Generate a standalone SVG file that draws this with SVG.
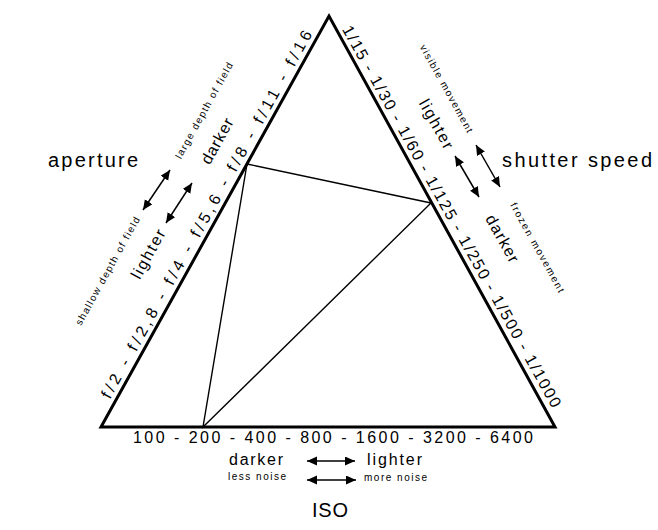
<svg xmlns="http://www.w3.org/2000/svg" width="658" height="530" viewBox="0 0 658 530">
<style>
text{font-family:"Liberation Sans",Arial,sans-serif;fill:#000}
.title{font-size:20px}
.mid{font-size:16px}
.scale{font-size:16px}
.small{font-size:10px}
.outer{fill:none;stroke:#000;stroke-width:3;stroke-linejoin:miter}
.inner{fill:none;stroke:#000;stroke-width:1.4}
.arr{stroke:#000;stroke-width:1.5;fill:none;marker-start:url(#ah);marker-end:url(#ah)}
</style>
<defs>
<marker id="ah" markerUnits="userSpaceOnUse" markerWidth="12" markerHeight="10" refX="10" refY="4.5" orient="auto-start-reverse">
<path d="M0,0 L10,4.5 L0,9 Z" fill="#000"/>
</marker>
</defs>
<rect width="658" height="530" fill="#fff"/>
<g id="triangle">
<path class="outer" d="M101,427 L329,16 L555,427 Z"/>
</g>
<g id="exposure-triangle">
<path class="inner" d="M247,164 L431,203 L203,427 Z"/>
</g>
<g id="aperture">
<text class="title" x="93" y="167" text-anchor="middle" textLength="90" lengthAdjust="spacing">aperture</text>
<text class="scale" transform="translate(211.2,217) rotate(-61)" text-anchor="middle" textLength="418" lengthAdjust="spacing">f/2 - f/2,8 - f/4 - f/5,6 - f/8 - f/11 - f/16</text>
<text class="mid" transform="translate(217,141) rotate(-61)" dy="0.35em" text-anchor="middle" textLength="50" lengthAdjust="spacing">darker</text>
<text class="mid" transform="translate(148,254) rotate(-61)" dy="0.35em" text-anchor="middle" textLength="54" lengthAdjust="spacing">lighter</text>
<text class="small" transform="translate(204,110.5) rotate(-61)" dy="0.35em" text-anchor="middle" textLength="108" lengthAdjust="spacing">large depth of field</text>
<text class="small" transform="translate(107.5,271) rotate(-61)" dy="0.35em" text-anchor="middle" textLength="122" lengthAdjust="spacing">shallow depth of field</text>
</g>
<g id="shutter-speed">
<text class="title" x="577" y="167" text-anchor="middle" textLength="150" lengthAdjust="spacing">shutter speed</text>
<text class="scale" transform="translate(447,219) rotate(61)" text-anchor="middle" textLength="434" lengthAdjust="spacing">1/15 - 1/30 - 1/60 - 1/125 - 1/250 - 1/500 - 1/1000</text>
<text class="mid" transform="translate(436.5,124) rotate(61)" dy="0.35em" text-anchor="middle" textLength="54" lengthAdjust="spacing">lighter</text>
<text class="mid" transform="translate(502.5,238.5) rotate(61)" dy="0.35em" text-anchor="middle" textLength="52" lengthAdjust="spacing">darker</text>
<text class="small" transform="translate(446.5,88.5) rotate(61)" dy="0.35em" text-anchor="middle" textLength="99" lengthAdjust="spacing">visible movement</text>
<text class="small" transform="translate(537.5,247.5) rotate(61)" dy="0.35em" text-anchor="middle" textLength="101" lengthAdjust="spacing">frozen movement</text>
</g>
<g id="iso">
<text class="scale" x="333" y="443" text-anchor="middle" textLength="400" lengthAdjust="spacing">100 - 200 - 400 - 800 - 1600 - 3200 - 6400</text>
<text class="mid" x="256" y="465" text-anchor="middle" textLength="54" lengthAdjust="spacing">darker</text>
<text class="mid" x="394.5" y="465" text-anchor="middle" textLength="55" lengthAdjust="spacing">lighter</text>
<text class="small" x="257" y="480" text-anchor="middle" textLength="58" lengthAdjust="spacing">less noise</text>
<text class="small" x="395.5" y="481" text-anchor="middle" textLength="63" lengthAdjust="spacing">more noise</text>
<text class="title" x="330" y="517" text-anchor="middle" textLength="36" lengthAdjust="spacing">ISO</text>
</g>
<g id="connectors">
<line class="arr" x1="143" y1="210" x2="170" y2="170"/>
<line class="arr" x1="166" y1="223" x2="192" y2="183"/>
<line class="arr" x1="476" y1="145" x2="500" y2="187"/>
<line class="arr" x1="455" y1="156" x2="479" y2="197"/>
<line class="arr" x1="307" y1="461" x2="355" y2="461"/>
<line class="arr" x1="307" y1="480" x2="356" y2="480"/>
</g>
</svg>
